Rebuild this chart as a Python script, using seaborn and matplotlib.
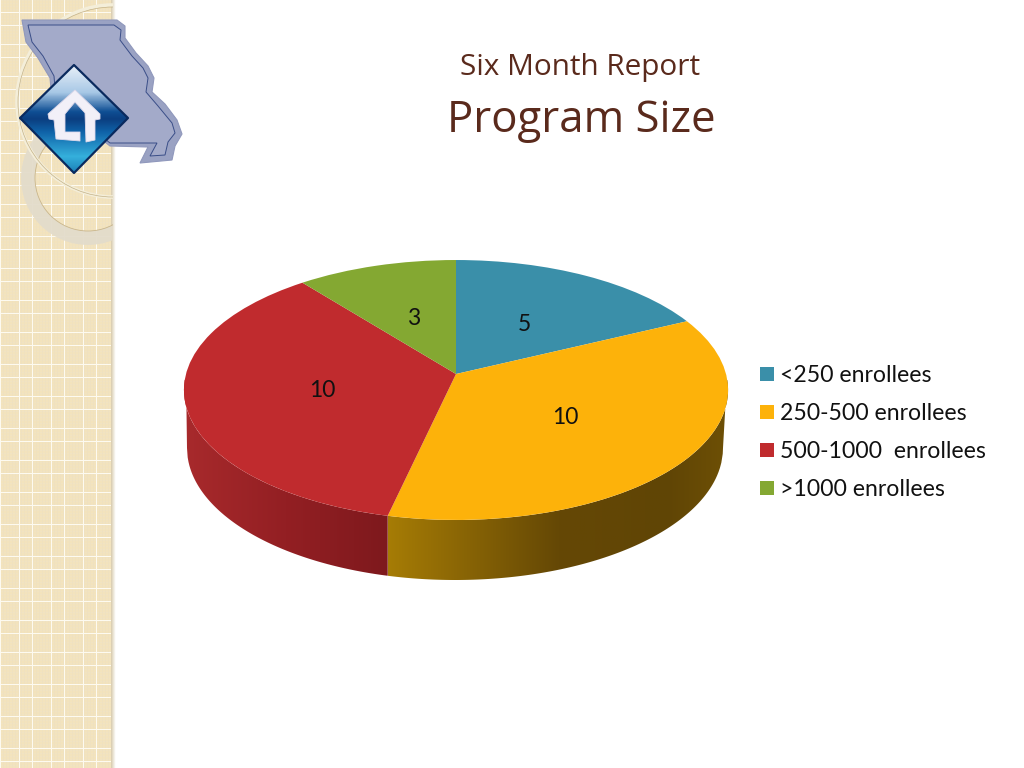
import numpy as np
import matplotlib
matplotlib.use("Agg")
import matplotlib.pyplot as plt
import seaborn as sns
from matplotlib.patches import Polygon, Circle, Rectangle
from matplotlib.transforms import Transform, Affine2D
from matplotlib.colors import LinearSegmentedColormap

categories = ["<250 enrollees", "250-500 enrollees", "500-1000  enrollees", ">1000 enrollees"]
values = [5, 10, 10, 3]
slice_colors = ["#3A8FA9", "#FDB20A", "#C02B2E", "#84A832"]
title_small = "Six Month Report"
title_large = "Program Size"

sns.set_theme(style="white")
plt.rcParams["font.family"] = ["Lato", "DejaVu Sans"]
palette = sns.color_palette(slice_colors)

fig = plt.figure(figsize=(10.24, 7.68), dpi=100, facecolor="white")
ax = fig.add_axes([0, 0, 1, 1])

# ---------- perspective of the pie top ----------
CX, CY, R, B, K = 456.0, 374.0, 270.0, 128.0, 0.123

def project(xy):
    xy = np.asarray(xy, dtype=float)
    w = 1 + K * xy[..., 1]
    return np.stack([CX + R * xy[..., 0] / w, CY - B * xy[..., 1] / w], axis=-1)

class Perspective(Transform):
    input_dims = output_dims = 2
    is_affine = False
    def transform_non_affine(self, values):
        return project(values)

wedges, _, counts = ax.pie(
    values, colors=palette, startangle=90, counterclock=False, radius=1,
    autopct=lambda p: f"{p * sum(values) / 100:.0f}", pctdistance=0.5,
    wedgeprops={"linewidth": 0}, textprops={"fontsize": 16.5, "color": "#111111"},
)
persp = Perspective() + ax.transData
for w in wedges:
    w.set_transform(persp)
    w.set_zorder(5)
for t in counts:
    t.set_transform(persp + Affine2D().translate(0, -2))
    t.set_zorder(6)

ax.set_aspect("auto")
ax.set_axis_off()

# ---------- left decorative strip ----------
H, W = 768, 113
strip = np.ones((H, W, 3)) * np.array([243, 227, 188]) / 255
strip[::3, :] = np.array([241, 227, 194]) / 255
strip[:, ::3] = np.array([239, 225, 192]) / 255
white = np.array([253, 250, 240]) / 255
for y in range(H):
    if y % 32 in (12, 25):
        strip[y, :] = white
for x in range(W):
    if x % 32 in (0, 19):
        strip[:, x] = white
ax.imshow(strip, extent=(0, W, H, 0), aspect="auto", zorder=0, interpolation="bilinear")
shade = LinearSegmentedColormap.from_list("shade", ["#D9CDB0", "#FFFFFF"])
ax.imshow(np.linspace(0, 1, 8)[None, :], extent=(111, 116, H, 0), aspect="auto",
          cmap=shade, zorder=0.5)

clip = Rectangle((0, 0), 113, 768, transform=ax.transData)
for patch in [
    Circle((88, 178), 60, fill=False, ec="#E3DCCB", lw=10, alpha=0.95, zorder=1),
    Circle((88, 178), 53, fill=False, ec="#C9B68C", lw=0.6, zorder=1.1),
    Circle((113, 101), 96, fill=False, ec="#F4EED9", lw=2.6, zorder=1.2),
    Circle((113, 102), 95, fill=False, ec="#C4B288", lw=0.5, zorder=1.3),
]:
    ax.add_patch(patch)
    patch.set_clip_path(clip)

state_outer = [(22, 20), (117, 20), (125, 26), (125, 38), (136, 53), (148, 66), (154, 78), (152, 92),
               (165, 104), (177, 120), (182, 134), (175, 146), (172, 160), (140, 163), (148, 147),
               (110, 146), (52, 100), (50, 78), (38, 58), (26, 42)]
state_inner = [(28, 25), (114, 25), (121, 30), (120, 40), (132, 56), (143, 68), (148, 78), (146, 92),
               (158, 106), (172, 123), (175, 133), (168, 142), (165, 155), (150, 156), (157, 143),
               (110, 143), (56, 100), (54, 76), (43, 56), (32, 42)]
ax.add_patch(Polygon(state_outer, closed=True, fc="#9AA2C3", ec="#9098BC", lw=0.8, zorder=2))
ax.add_patch(Polygon(state_inner, closed=True, fc="#A3AAC9", ec="#3A4E88", lw=0.7, zorder=2.1))

dia_pts = [(74, 65), (128, 118), (74, 173), (20, 118)]
dia_cmap = LinearSegmentedColormap.from_list(
    "dia", [(0, "#E8F0F8"), (0.25, "#A8C8E6"), (0.43, "#0F4F94"), (0.5, "#0B3E80"),
            (0.62, "#0F62A8"), (0.85, "#35B0DC"), (1, "#1C7FB8")])
im = ax.imshow(np.linspace(0, 1, 120)[:, None], extent=(20, 128, 173, 65), aspect="auto",
               cmap=dia_cmap, zorder=3.5)
ax.add_patch(Polygon(dia_pts, closed=True, fc="none", ec="#0A2A5E", lw=1.6, joinstyle="round", zorder=4))
im.set_clip_path(Polygon(dia_pts, closed=True, transform=ax.transData))
house = [(75, 90), (100, 114), (100, 119), (95, 120), (95, 140), (86, 142), (85, 113), (75, 102),
         (65, 114), (65, 132), (80, 132), (80, 141), (56, 139), (54, 120), (49, 119), (48, 114)]
ax.add_patch(Polygon(house, closed=True, fc="#F2F0F8", ec="#DDD8EA", lw=0.6, joinstyle="round", zorder=4.5))

# ---------- pie side ----------
LOW_CX, LOW_CY, LOW_A, LOW_B = 455.0, 448.0, 268.0, 132.0

def rim(theta_deg):
    th = np.radians(theta_deg)
    return project(np.stack([np.sin(th), np.cos(th)], axis=-1))

def lower_y(x):
    return LOW_CY + LOW_B * np.sqrt(np.clip(1 - ((x - LOW_CX) / LOW_A) ** 2, 0, 1))

shares = np.cumsum(values) / sum(values) * 360
orange_end = shares[1]

def side(theta_a, theta_b, fractions, colors, name):
    top = rim(np.linspace(theta_a, theta_b, 240))
    xs = np.linspace(top[-1, 0], top[0, 0], 240)
    xs = np.clip(xs, LOW_CX - LOW_A, LOW_CX + LOW_A)
    low = np.column_stack([xs, lower_y(xs)])
    poly = Polygon(np.vstack([top, low]), closed=True, transform=ax.transData)
    x0, x1 = min(top[:, 0].min(), xs.min()), max(top[:, 0].max(), xs.max())
    cm = LinearSegmentedColormap.from_list(name, list(zip(fractions, colors)))
    img = ax.imshow(np.linspace(0, 1, 256)[None, :], extent=(x0, x1, 600, 380), aspect="auto",
                    cmap=cm, zorder=4.2)
    img.set_clip_path(poly)

side(orange_end, 270, [0, 0.5, 1], ["#A82A2C", "#931F23", "#7E191D"], "redside")
side(92, orange_end, [0, 0.5, 0.82, 1], ["#A67C06", "#654805", "#604505", "#6E5006"], "orangeside")

# ---------- titles and legend ----------
title_color = "#5A2A1C"
ax.text(580.5, 68, title_small, ha="center", va="center", fontsize=21.4, color=title_color,
        family=["Open Sans", "DejaVu Sans"], zorder=7)
ax.text(581, 121, title_large, ha="center", va="center", fontsize=31.5, color=title_color,
        family=["Open Sans", "DejaVu Sans"], zorder=7)

ax.set_xlim(0, 1024)
ax.set_ylim(768, 0)

leg = ax.legend(wedges, categories, loc="upper left", bbox_to_anchor=(760 / 1024, 1 - 365 / 768),
                bbox_transform=fig.transFigure, frameon=False, fontsize=16.6,
                handlelength=0.6, handleheight=0.6, handletextpad=0.26, labelspacing=0.74,
                borderpad=0, borderaxespad=0, labelcolor="#111111")
leg.set_zorder(8)

fig.savefig("out.png", dpi=100, facecolor="white")
